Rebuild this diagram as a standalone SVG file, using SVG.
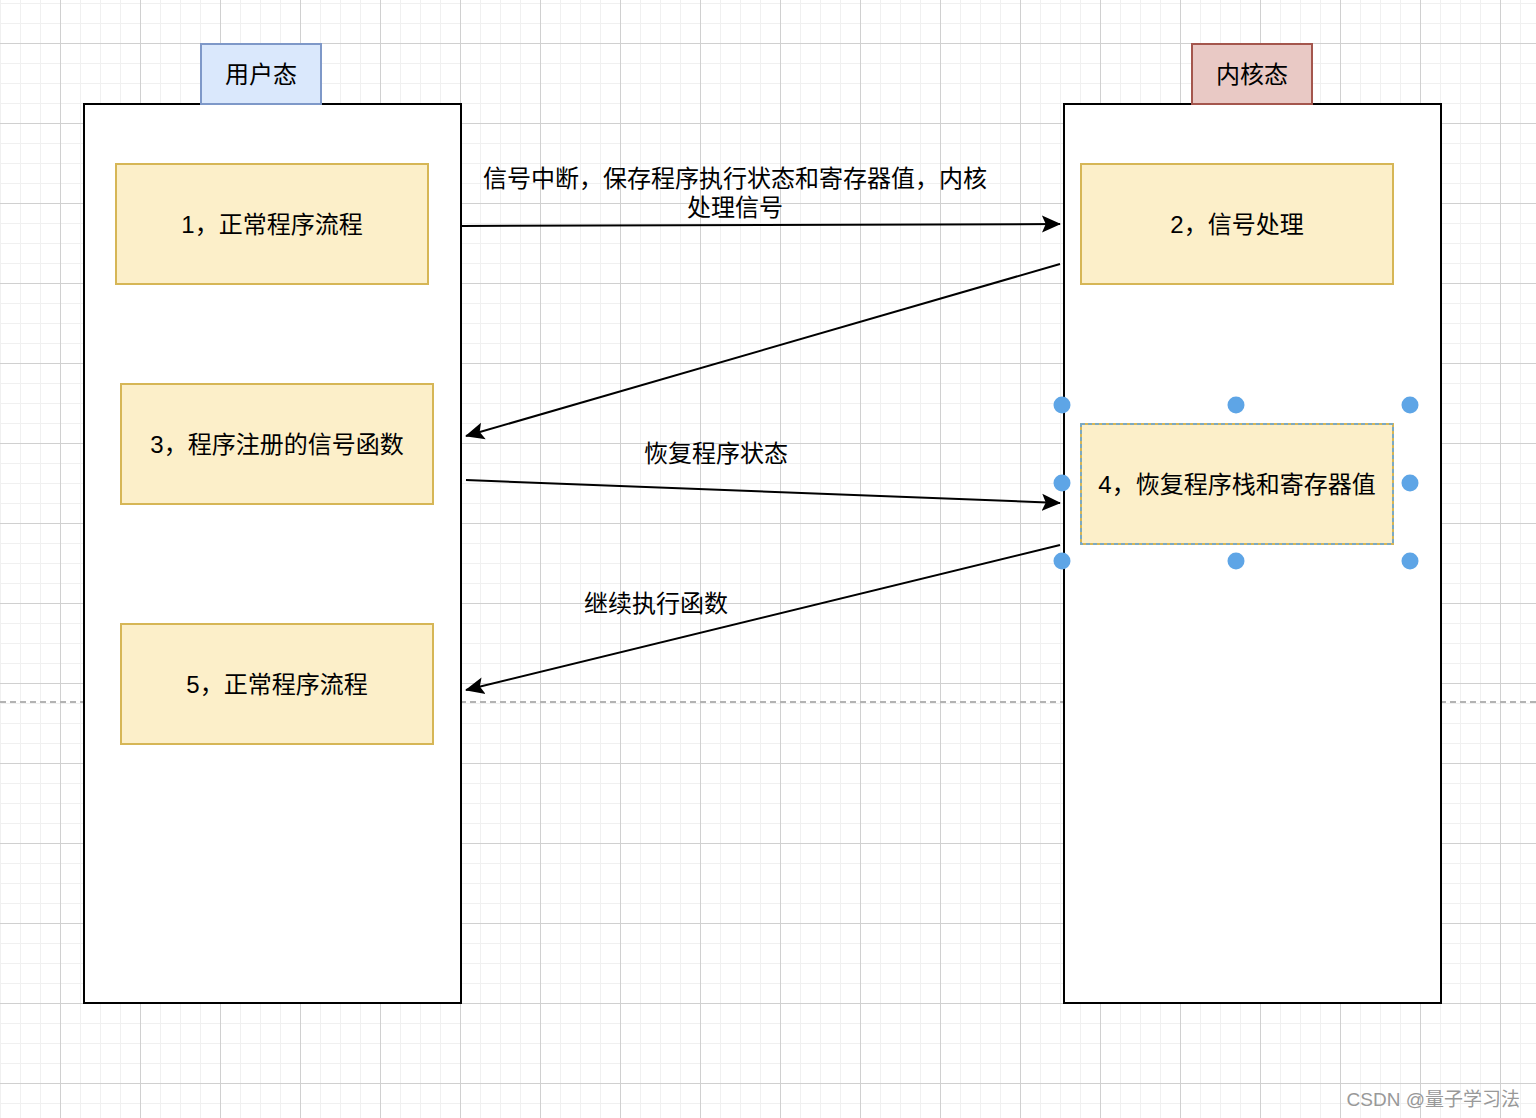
<svg xmlns="http://www.w3.org/2000/svg" width="1536" height="1118" viewBox="0 0 1536 1118">
<defs>
<pattern id="grid" x="60" y="43" width="80" height="80" patternUnits="userSpaceOnUse">
<rect width="80" height="80" fill="#ffffff"/>
<path d="M20.5 0V80M40.5 0V80M60.5 0V80M0 20.5H80M0 40.5H80M0 60.5H80" stroke="#f0f0f0" stroke-width="1" fill="none"/>
<path d="M0.5 0V80M0 0.5H80" stroke="#d0d0d0" stroke-width="1" fill="none"/>
</pattern>
<marker id="arr" viewBox="0 0 20 20" refX="19" refY="10" markerWidth="19" markerHeight="19" markerUnits="userSpaceOnUse" orient="auto">
<path d="M0 1 L20 10 L0 19 L4 10 Z" fill="#000"/>
</marker>
<style>
text{font-family:"Liberation Sans","Noto Sans CJK SC",sans-serif;font-size:24px;fill:#000;text-anchor:middle;dominant-baseline:central}
.cont{fill:#fff;stroke:#000;stroke-width:2}
.box{fill:#fcefc9;stroke:#d6b656;stroke-width:2}
.edge{fill:none;stroke:#000;stroke-width:2;marker-end:url(#arr)}
.h{fill:#5ea5e6}
</style>
</defs>
<rect width="1536" height="1118" fill="url(#grid)"/>
<line x1="0" y1="702" x2="1536" y2="702" stroke="#b3b3b3" stroke-width="2" stroke-dasharray="6 4"/>

<g id="user-container">
<rect class="cont" x="84" y="104" width="377" height="899"/>
</g>
<g id="user-tab">
<rect x="201" y="44" width="120" height="60" fill="#dae8fc" stroke="#7e98c8" stroke-width="2"/>
<text x="261" y="74">用户态</text>
</g>
<g id="kernel-container">
<rect class="cont" x="1064" y="104" width="377" height="899"/>
</g>
<g id="kernel-tab">
<rect x="1192" y="44" width="120" height="60" fill="#e9c9c5" stroke="#a4564d" stroke-width="2"/>
<text x="1252" y="74">内核态</text>
</g>

<g id="node1">
<rect class="box" x="116" y="164" width="312" height="120"/>
<text x="272" y="224">1，正常程序流程</text>
</g>
<g id="node2">
<rect class="box" x="1081" y="164" width="312" height="120"/>
<text x="1237" y="224">2，信号处理</text>
</g>
<g id="node3">
<rect class="box" x="121" y="384" width="312" height="120"/>
<text x="277" y="444">3，程序注册的信号函数</text>
</g>
<g id="node4">
<rect class="box" x="1081" y="424" width="312" height="120"/>
<rect x="1081" y="424" width="312" height="120" fill="none" stroke="#5ea5e6" stroke-width="1.5" stroke-dasharray="4 3"/>
<text x="1237" y="484">4，恢复程序栈和寄存器值</text>
</g>
<g id="node5">
<rect class="box" x="121" y="624" width="312" height="120"/>
<text x="277" y="684">5，正常程序流程</text>
</g>

<g id="connectors">
<line class="edge" x1="462" y1="226" x2="1060" y2="224"/>
<text x="735" y="178">信号中断，保存程序执行状态和寄存器值，内核</text>
<text x="735" y="207">处理信号</text>
<line class="edge" x1="1060" y1="264" x2="466" y2="436"/>
<line class="edge" x1="466" y1="480" x2="1060" y2="503"/>
<text x="716" y="453">恢复程序状态</text>
<line class="edge" x1="1060" y1="545" x2="466" y2="690"/>
<text x="656" y="603">继续执行函数</text>
</g>

<g id="selection-handles">
<circle class="h" cx="1062" cy="405" r="8.5"/>
<circle class="h" cx="1236" cy="405" r="8.5"/>
<circle class="h" cx="1410" cy="405" r="8.5"/>
<circle class="h" cx="1062" cy="483" r="8.5"/>
<circle class="h" cx="1410" cy="483" r="8.5"/>
<circle class="h" cx="1062" cy="561" r="8.5"/>
<circle class="h" cx="1236" cy="561" r="8.5"/>
<circle class="h" cx="1410" cy="561" r="8.5"/>
</g>

<text x="1520" y="1099" style="text-anchor:end;font-size:19px;fill:#999999">CSDN @量子学习法</text>
</svg>
